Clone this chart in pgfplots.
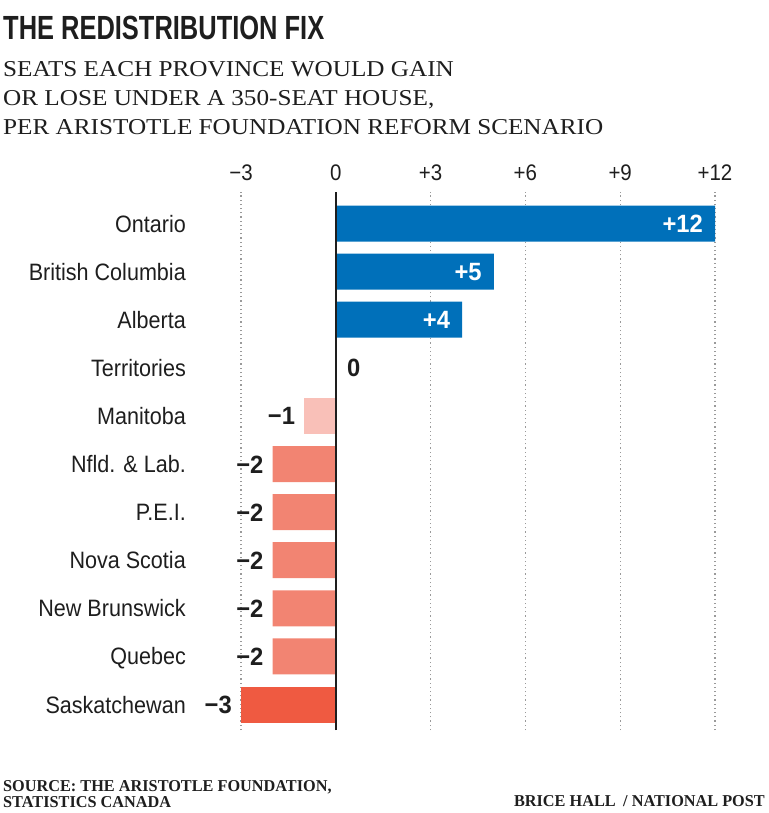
\documentclass[border=0pt]{standalone}
\usepackage{pgfplots}
\pgfplotsset{compat=1.18}
\usepackage{fontspec}
\setmainfont{Liberation Sans}
\newfontfamily\titlefont[FakeStretch=0.76]{Liberation Sans}
\newfontfamily\labelfont[FakeStretch=0.91]{Liberation Sans}
\newfontfamily\valuefont[FakeStretch=0.95]{Liberation Sans}
\newfontfamily\subfont[FakeStretch=1.11]{Liberation Serif}
\newfontfamily\srcfont[FakeStretch=0.98]{Liberation Serif}

\definecolor{ink}{HTML}{1E1E1E}
\definecolor{gainblue}{HTML}{0070BA}
\definecolor{loseone}{HTML}{F9C0B8}
\definecolor{losetwo}{HTML}{F28472}
\definecolor{losethree}{HTML}{EF5A41}
\definecolor{gridgray}{HTML}{9A9A9A}

\tikzset{
  valuelabel/.style={inner sep=0pt, yshift=-9pt,
    font=\valuefont\bfseries\fontsize{25pt}{28pt}\selectfont},
}
\pgfplotsset{
  seatbar/.style={xbar, bar width=36pt, bar shift=0pt, draw=none},
}

\begin{document}
\begin{tikzpicture}[x=1pt,y=1pt]
\path[use as bounding box] (0,0) rectangle (768,-813);

% title and subtitle
\node[anchor=base west, inner sep=0pt, text=ink] at (3,-39.5)
  {\titlefont\bfseries\fontsize{33.5pt}{36pt}\selectfont THE REDISTRIBUTION FIX};
\node[anchor=base west, inner sep=0pt, text=ink] at (3,-77)
  {\subfont\fontsize{22.7pt}{29pt}\selectfont SEATS EACH PROVINCE WOULD GAIN};
\node[anchor=base west, inner sep=0pt, text=ink] at (3,-106)
  {\subfont\fontsize{22.7pt}{29pt}\selectfont OR LOSE UNDER A 350-SEAT HOUSE,};
\node[anchor=base west, inner sep=0pt, text=ink] at (3,-135)
  {\subfont\fontsize{22.7pt}{29pt}\selectfont PER ARISTOTLE FOUNDATION REFORM SCENARIO};

\begin{axis}[
  at={(241pt,-192pt)}, anchor=north west,
  scale only axis, width=474pt, height=538pt,
  xmin=-3, xmax=12, ymin=-0.53, ymax=10.655,
  clip=false,
  axis line style={draw=none},
  major tick length=0pt,
  xtick={-3,0,3,6,9,12},
  xticklabels={−3,0,+3,+6,+9,+12},
  xticklabel pos=right,
  xticklabel style={anchor=base, inner sep=0pt, yshift=12pt, text=ink,
    font=\labelfont\fontsize{22.5pt}{24pt}\selectfont},
  xmajorgrids,
  grid style={gridgray, line width=1.1pt, dash pattern=on 1.2pt off 3pt},
  ytick={0,...,10},
  yticklabels={Saskatchewan,Quebec,New Brunswick,Nova Scotia,P.E.I.,
    Nfld. \& Lab.,Manitoba,Territories,Alberta,British Columbia,Ontario},
  yticklabel style={anchor=base east, inner sep=0pt, xshift=-55pt, yshift=-8.5pt,
    text=ink, font=\labelfont\fontsize{23.7pt}{26pt}\selectfont},
]
% gains
\addplot[seatbar, fill=gainblue, nodes near coords, point meta=explicit symbolic,
  every node near coord/.style={valuelabel, anchor=base east, xshift=-12pt, text=white}]
  coordinates {(12,10) [+12] (5,9) [+5] (4,8) [+4]};
% no change
\addplot[seatbar, fill=none, nodes near coords, point meta=explicit symbolic,
  every node near coord/.style={valuelabel, anchor=base west, xshift=11pt, text=ink}]
  coordinates {(0,7) [0]};
% losses
\addplot[seatbar, fill=loseone, nodes near coords, point meta=explicit symbolic,
  every node near coord/.style={valuelabel, anchor=base east, xshift=-9pt, text=ink}]
  coordinates {(-1,6) [−1]};
\addplot[seatbar, fill=losetwo, nodes near coords, point meta=explicit symbolic,
  every node near coord/.style={valuelabel, anchor=base east, xshift=-9pt, text=ink}]
  coordinates {(-2,5) [−2] (-2,4) [−2] (-2,3) [−2] (-2,2) [−2] (-2,1) [−2]};
\addplot[seatbar, fill=losethree, nodes near coords, point meta=explicit symbolic,
  every node near coord/.style={valuelabel, anchor=base east, xshift=-9pt, text=ink}]
  coordinates {(-3,0) [−3]};
% zero line
\addplot[ink, line width=2pt, mark=none, forget plot]
  coordinates {(0,-0.53) (0,10.655)};
\end{axis}

% source and credit
\node[anchor=base west, inner sep=0pt, text=ink] at (3,-791)
  {\srcfont\bfseries\fontsize{16.6pt}{18pt}\selectfont SOURCE: THE ARISTOTLE FOUNDATION,};
\node[anchor=base west, inner sep=0pt, text=ink] at (3,-807)
  {\srcfont\bfseries\fontsize{16.6pt}{18pt}\selectfont STATISTICS CANADA};
\node[anchor=base east, inner sep=0pt, text=ink] at (765,-806)
  {\srcfont\bfseries\fontsize{16.6pt}{18pt}\selectfont BRICE HALL\hspace{0.45em}/ NATIONAL POST};
\end{tikzpicture}
\end{document}
